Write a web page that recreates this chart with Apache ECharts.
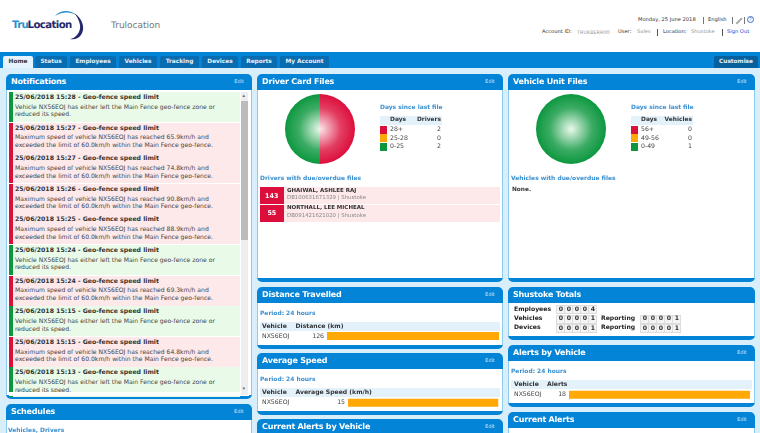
<!DOCTYPE html>
<html>
<head>
<meta charset="utf-8">
<title>Trulocation</title>
<script src="https://cdn.jsdelivr.net/npm/echarts@6/dist/echarts.min.js"></script>
<style>
html,body{margin:0;padding:0;width:760px;height:433px;overflow:hidden;background:#d9eefb;font-family:"DejaVu Sans",Verdana,sans-serif;color:#444;text-rendering:geometricPrecision}
#page{position:absolute;left:0;top:0;width:760px;height:433px;overflow:hidden;filter:blur(0.3px)}
#chart{position:absolute;left:0;top:0;width:760px;height:433px;pointer-events:none;filter:blur(0.3px)}
.b{position:absolute}
.t{position:absolute;white-space:nowrap;line-height:1;transform:translateY(-50%)}
</style>
</head>
<body>
<div id="page"></div>
<div id="chart"></div>
<script>
// 数据
var RED = '#dc0e3c', ORANGE = '#ffa806', GREEN = '#0c973f', BLUE = '#0484d6', LINK = '#3a8fd0';
var tabs = ['Home', 'Status', 'Employees', 'Vehicles', 'Tracking', 'Devices', 'Reports', 'My Account'];
var tabLeft = [3, 35, 70, 119, 160, 202, 241, 280];
var tabRight = [33, 67, 116, 157, 199, 238, 277, 329];

var noteTimes = ['15:28', '15:27', '15:27', '15:26', '15:25', '15:24', '15:24', '15:15', '15:15', '15:13'];
var noteSpeeds = [null, 65.9, 74.8, 90.8, 88.9, null, 69.3, null, 64.8, null];

var driverDays = ['28+', '25-28', '0-25'];
var driverCounts = [2, 0, 2];
var vehicleDays = ['56+', '49-56', '0-49'];
var vehicleCounts = [0, 0, 1];
var sliceColors = [RED, ORANGE, GREEN];

var overdueNames = ['GHAIWAL, ASHLEE RAJ', 'NORTHALL, LEE MICHEAL'];
var overdueCards = ['DB100631671329 | Shustoke', 'DB091421621020 | Shustoke'];
var overdueDays = [143, 55];

var barVehicles = ['NX56EOJ'];
var distanceKm = [126];
var averageSpeed = [15];
var alertCounts = [18];

var page = document.getElementById('page');

function box(x, y, w, h, bg, radius) {
	var d = document.createElement('div');
	d.className = 'b';
	d.style.cssText = 'left:' + x + 'px;top:' + y + 'px;width:' + w + 'px;height:' + h + 'px;background:' + bg + ';' + (radius ? 'border-radius:' + radius : '');
	page.appendChild(d);
	return d;
}

function text(x, y, s, size, color, bold, right) {
	var d = document.createElement('div');
	d.className = 't';
	d.textContent = s;
	d.style.cssText = (right ? 'right:' + (760 - x) + 'px' : 'left:' + x + 'px') + ';top:' + y + 'px;font-size:' + size + 'px;color:' + color + ';' + (bold ? 'font-weight:bold' : '');
	page.appendChild(d);
	return d;
}

// 面板: 标题栏, 白色内容, 底部蓝边
function panel(x, y, w, h, title, edit) {
	box(x, y, w, h, BLUE, '5px');
	var body = box(x, y + 15.5, w, h - 20, '#fff');
	body.style.boxSizing = 'border-box';
	body.style.borderLeft = '1px solid #8fcaef';
	body.style.borderRight = '1px solid #8fcaef';
	text(x + 5, y + 7.8, title, 8, '#fff', true).style.letterSpacing = '-0.2px';
	if (edit) text(x + w - 8, y + 7.8, 'Edit', 5, '#cfe8f8', false, true);
}

function legend(x, rowLabels, counts, head) {
	box(x, 116, 62, 9, '#e3f1fb');
	text(x + 10, 121, 'Days', 5.9, '#333', true);
	text(x + 61, 121, head, 5.9, '#333', true, true);
	for (var i = 0; i < rowLabels.length; i++) {
		box(x, 126 + i * 8.4, 7, 8, sliceColors[i]);
		text(x + 10, 130.2 + i * 8.4, rowLabels[i], 6.2, '#444');
		text(x + 61, 130.2 + i * 8.4, counts[i], 6.2, '#444', false, true);
	}
}

function counter(x, y, value) {
	var digits = String(value);
	box(x, y, 41, 9, '#ddd');
	for (var i = 0; i < digits.length; i++) {
		box(x + 1 + i * 8, y + 1, 7, 7, '#f4f4f4');
		text(x + 2.8 + i * 8, y + 4.8, digits.charAt(i), 6.2, '#333', true);
	}
}

function drawHeader() {
	box(0, 0, 760, 52, '#fff');
	box(0, 52, 760, 16, BLUE);
	// logo
	var logo = box(0, 0, 100, 50, 'none');
	logo.innerHTML = '<svg width="100" height="50"><path d="M55 16 C60 10 70 9 76 15 C71 12 63 11 55 16Z" fill="#2a8fd0"/>' +
		'<path d="M74 13 C82 18 86 28 81 35 C78 39 74 40 70 39 C76 38 81 32 80 25 C79 20 77 16 74 13Z" fill="#23286e"/></svg>';
	text(12, 26, 'Tru', 10.2, '#2a8fd0', true).style.letterSpacing = '-0.7px';
	text(27.5, 26, 'Location', 10.2, '#23286e', true).style.letterSpacing = '-0.6px';
	text(111, 26, 'Trulocation', 9, '#777');
	text(638, 20.7, 'Monday, 25 June 2018', 5.15, '#333');
	text(708, 20.7, 'English', 5.15, '#333');
	box(702.5, 17, 0.8, 7, '#777');
	box(731.5, 17, 0.8, 7, '#777');
	box(744, 17, 0.8, 7, '#777');
	box(735, 20, 8, 1.6, '#aaa').style.transform = 'rotate(-45deg)';
	var help = box(747, 16, 7, 7, 'none', '50%');
	help.style.border = '0.8px solid #3a6fd0';
	help.style.boxSizing = 'border-box';
	text(749, 19.7, '?', 5, '#3a6fd0');
	text(542, 33, 'Account ID:', 5.15, '#333');
	text(577, 33, 'TRUKBERR00', 4.9, '#999');
	text(618, 33, 'User:', 5.15, '#333');
	text(637, 33, 'Sales', 5.15, '#999');
	box(657, 29, 0.8, 7, '#555');
	text(663, 33, 'Location:', 5.15, '#333');
	text(691, 33, 'Shustoke', 5.15, '#999');
	box(721.5, 29, 0.8, 7, '#555');
	text(727, 33, 'Sign Out', 5.15, '#2a3fd0');
	for (var i = 0; i < tabs.length; i++) {
		box(tabLeft[i], 56, tabRight[i] - tabLeft[i], 12, i == 0 ? '#e6f3fc' : '#0a6cb0', '2px 2px 0 0');
		var label = text((tabLeft[i] + tabRight[i]) / 2, 62.7, tabs[i], 5.8, i == 0 ? '#333' : '#e4f2fb', true);
		label.style.transform = 'translate(-50%,-50%)';
	}
	box(714, 56, 44, 12, '#07609c', '2px 2px 0 0');
	text(719, 62.7, 'Customise', 5.8, '#e4f2fb', true);
}

function drawNotifications() {
	panel(6, 74, 246, 325, 'Notifications', true);
	for (var i = 0; i < noteTimes.length; i++) {
		var y = 92 + i * 30.6;
		var fine = noteSpeeds[i] === null;
		box(9, y, 231, 30, fine ? '#e9fbe8' : '#fde8ea');
		box(9, y, 3.5, 30, fine ? GREEN : RED);
		text(15, y + 6, '25/06/2018 ' + noteTimes[i] + ' - Geo-fence speed limit', 6.2, '#333', true);
		if (fine) {
			text(15, y + 15.7, 'Vehicle NX56EOJ has either left the Main Fence geo-fence zone or', 6.08, '#444');
			text(15, y + 23.3, 'reduced its speed.', 6.08, '#444');
		} else {
			text(15, y + 15.7, 'Maximum speed of vehicle NX56EOJ has reached ' + noteSpeeds[i] + 'km/h and', 6.08, '#444');
			text(15, y + 23.3, 'exceeded the limit of 60.0km/h within the Main Fence geo-fence.', 6.08, '#444');
		}
	}
	// 裁掉最后一条和滚动条
	box(9, 392, 240, 3.5, '#fff');
	box(241, 92, 7, 303, '#eee');
	box(241, 101, 7, 139, '#bcbcbc');
	text(242.5, 96, '\u25B4', 5, '#666');
	text(242.5, 389, '\u25BE', 5, '#666');
	panel(6, 404, 246, 60, 'Schedules', true);
	text(8, 430.5, 'Vehicles, Drivers', 5.95, LINK, true);
}

function drawFilePanels() {
	panel(257, 74, 246, 208, 'Driver Card Files', true);
	text(380, 108, 'Days since last file', 5.95, LINK, true);
	legend(380, driverDays, driverCounts, 'Drivers');
	text(260, 178.5, 'Drivers with due/overdue files', 5.95, LINK, true);
	for (var i = 0; i < overdueNames.length; i++) {
		var y = 187 + i * 17.6;
		box(260, y, 240, 17.2, '#fde8ea');
		box(260, y, 24, 17.2, RED);
		text(272 - String(overdueDays[i]).length * 2.3, y + 8.8, overdueDays[i], 6.4, '#fff', true);
		text(287, y + 4.6, overdueNames[i], 5.5, '#333', true);
		text(287, y + 12, overdueCards[i], 5.4, '#888');
	}
	panel(508, 74, 247, 208, 'Vehicle Unit Files', true);
	text(631, 108, 'Days since last file', 5.95, LINK, true);
	legend(631, vehicleDays, vehicleCounts, 'Vehicles');
	text(511, 178.5, 'Vehicles with due/overdue files', 5.95, LINK, true);
	text(512, 190.7, 'None.', 5.8, '#333', true);
}

function drawBarPanels() {
	panel(257, 287, 246, 62, 'Distance Travelled', true);
	text(260, 313.7, 'Period: 24 hours', 5.95, LINK, true);
	box(260, 322, 240, 9, '#e3f1fb');
	text(262, 326.5, 'Vehicle', 6.1, '#333', true);
	text(295.5, 326.5, 'Distance (km)', 6.1, '#333', true);

	panel(257, 353, 246, 62, 'Average Speed', true);
	text(260, 380, 'Period: 24 hours', 5.95, LINK, true);
	box(260, 388, 240, 9, '#e3f1fb');
	text(262, 392.8, 'Vehicle', 6.1, '#333', true);
	text(295.5, 392.8, 'Average Speed (km/h)', 6.1, '#333', true);

	panel(257, 419, 246, 60, 'Current Alerts by Vehicle', true);

	panel(508, 287, 247, 53, 'Shustoke Totals', false);
	text(514, 309.5, 'Employees', 6.1, '#222', true);
	text(514, 318.7, 'Vehicles', 6.1, '#222', true);
	text(514, 328, 'Devices', 6.1, '#222', true);
	counter(556, 305, '00004');
	counter(556, 314.5, '00001');
	counter(556, 324, '00001');
	text(601, 318.7, 'Reporting', 6.1, '#222', true);
	text(601, 328, 'Reporting', 6.1, '#222', true);
	counter(640, 314.5, '00001');
	counter(640, 324, '00001');

	panel(508, 345, 247, 62, 'Alerts by Vehicle', true);
	text(511, 372, 'Period: 24 hours', 5.95, LINK, true);
	box(511, 380, 241, 9, '#e3f1fb');
	text(514, 384.8, 'Vehicle', 6.1, '#333', true);
	text(547, 384.8, 'Alerts', 6.1, '#333', true);

	panel(508, 412, 247, 60, 'Current Alerts', true);
}

// 球形饼图的渐变
function ball(cx, cy, r, color, light) {
	return {
		type: 'radial', x: cx, y: cy, r: r, global: true,
		colorStops: [{ offset: 0, color: light }, { offset: 0.6, color: echarts.color.lerp(0.78, [light, color]) }, { offset: 1, color: color }]
	};
}

function pieSeries(cx, cy, labels, counts) {
	var lights = ['#fbe6ea', '#fff3d8', '#eaf8ec'];
	var data = [];
	for (var i = 0; i < counts.length; i++) {
		data.push({ name: labels[i], value: counts[i], itemStyle: { color: ball(cx, cy, 35, sliceColors[i], lights[i]) } });
	}
	return {
		type: 'pie', center: [cx, cy], radius: [0, 35], startAngle: 90, silent: true,
		label: { show: false }, labelLine: { show: false }, animation: false, data: data
	};
}

function barSeries(index, values) {
	return {
		type: 'bar', xAxisIndex: index, yAxisIndex: index, data: values, barWidth: 8, silent: true, animation: false,
		itemStyle: { color: ORANGE },
		label: { show: true, position: 'left', distance: 3, fontSize: 6.2, color: '#444', fontFamily: 'DejaVu Sans' }
	};
}

function showCharts() {
	var chart = echarts.init(document.getElementById('chart'));
	var grids = [
		{ left: 327, top: 332, width: 172, height: 8 },
		{ left: 348, top: 398.7, width: 150.3, height: 8 },
		{ left: 569, top: 390.7, width: 181, height: 8 }
	];
	var labelLeft = [262, 262, 514];
	var xAxes = [], yAxes = [];
	for (var i = 0; i < grids.length; i++) {
		xAxes.push({ gridIndex: i, type: 'value', min: 0, max: 'dataMax', show: false });
		yAxes.push({
			gridIndex: i, type: 'category', data: barVehicles,
			axisLine: { show: false }, axisTick: { show: false },
			axisLabel: { align: 'left', margin: grids[i].left - labelLeft[i], fontSize: 6.2, color: '#444', fontFamily: 'DejaVu Sans' }
		});
	}
	chart.setOption({
		backgroundColor: 'transparent',
		animation: false,
		grid: grids,
		xAxis: xAxes,
		yAxis: yAxes,
		series: [
			pieSeries(320, 129, driverDays, driverCounts),
			pieSeries(571, 129, vehicleDays, vehicleCounts),
			barSeries(0, distanceKm),
			barSeries(1, averageSpeed),
			barSeries(2, alertCounts)
		]
	});
}

drawHeader();
drawNotifications();
drawFilePanels();
drawBarPanels();
showCharts();
</script>
</body>
</html>
